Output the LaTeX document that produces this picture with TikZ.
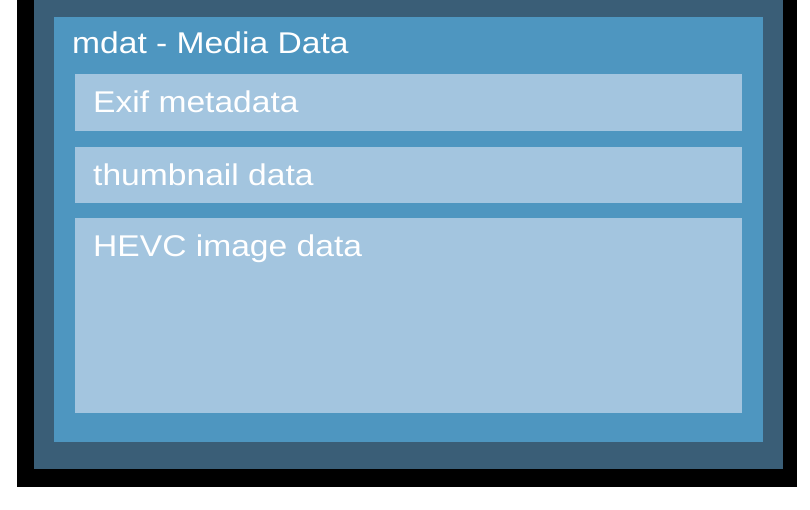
\documentclass[tikz,border=0pt]{standalone}
\usepackage{fontspec}
\setmainfont[FakeStretch=1.12]{Liberation Sans}
\usepackage{xcolor}
\definecolor{fileblue}{HTML}{3A5E77}
\definecolor{mdatblue}{HTML}{4E96C0}
\definecolor{itemblue}{HTML}{A3C5DF}

\begin{document}
\begin{tikzpicture}[x=1pt,y=-1pt,
	area/.style={anchor=north west,inner sep=0pt,outer sep=0pt},
	caption/.style={anchor=base west,inner sep=0pt,text=white,font=\fontsize{30}{36}\selectfont}]
	\useasboundingbox (0,0) rectangle (810,510);
	\fill[white] (0,0) rectangle (810,510);
	
	% Frame and outer file box
	\node[area,fill=black,minimum width=780pt,minimum height=487pt] (frame) at (17,0) {};
	\node[area,fill=fileblue,minimum width=749pt,minimum height=469pt] (file) at (34,0) {};
	
	% mdat box
	\node[area,fill=mdatblue,minimum width=709pt,minimum height=425pt] (mdat) at (54,17) {};
	\node[caption] (mdattitle) at (72,54) {mdat - Media Data};
	
	% Items inside mdat
	\foreach \name/\y/\h/\txt in {exif/74/57/Exif metadata, thumb/147/56/thumbnail data, hevc/218/195/HEVC image data} {
		\node[area,fill=itemblue,minimum width=667pt,minimum height=\h pt] (\name) at (75,\y) {};
		\node[caption] (\name text) at (93,\y+39) {\txt};
	}
	
\end{tikzpicture}
\end{document}
